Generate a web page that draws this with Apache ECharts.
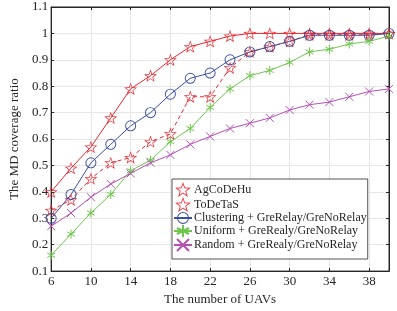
<!DOCTYPE html>
<html>
<head>
<meta charset="utf-8">
<script src="https://cdn.jsdelivr.net/npm/echarts@6/dist/echarts.min.js"></script>
<style>
  html, body { margin: 0; padding: 0; background: #fff; }
  #chart { width: 397px; height: 311px; }
</style>
</head>
<body>
<div id="chart"></div>
<script>
// ── data ──
const uavCounts = [6, 8, 10, 12, 14, 16, 18, 20, 22, 24, 26, 28, 30, 32, 34, 36, 38, 40]
const agCoDeHu = [0.40, 0.49, 0.57, 0.68, 0.79, 0.84, 0.90, 0.95, 0.97, 0.99, 1.0, 1.0, 1.0, 1.0, 1.0, 1.0, 1.0, 1.0]
const toDeTaS = [0.33, 0.37, 0.45, 0.51, 0.53, 0.59, 0.62, 0.76, 0.76, 0.87, 0.93, 0.95, 0.97, 0.995, 0.995, 0.995, 0.995, 1.0]
const clustering = [0.30, 0.39, 0.51, 0.58, 0.65, 0.70, 0.77, 0.83, 0.85, 0.90, 0.93, 0.95, 0.97, 0.993, 0.993, 0.993, 0.993, 1.0]
const uniform = [0.16, 0.24, 0.32, 0.39, 0.48, 0.52, 0.59, 0.64, 0.72, 0.79, 0.84, 0.86, 0.89, 0.93, 0.94, 0.96, 0.97, 0.99]
const random = [0.27, 0.32, 0.38, 0.43, 0.47, 0.51, 0.54, 0.58, 0.61, 0.64, 0.66, 0.68, 0.71, 0.73, 0.74, 0.76, 0.78, 0.79]
const seriesNames = [
  'AgCoDeHu',
  'ToDeTaS',
  'Clustering + GreRelay/GreNoRelay',
  'Uniform + GreRealy/GreNoRelay',
  'Random + GreRealy/GreNoRelay',
]

// ── marker shapes (hollow ones are drawn as rings so fill gives an outline) ──
const STAR = 'path://M0,-10L2.35,-3.24L9.51,-3.09L3.8,1.24L5.88,8.09L0,4L-5.88,8.09L-3.8,1.24L-9.51,-3.09L-2.35,-3.24Z' +
  'M0,-7.2L-1.6,-2.4L-6.6,-2.2L-2.7,0.9L-4.1,5.6L0,2.8L4.1,5.6L2.7,0.9L6.6,-2.2L1.6,-2.4Z'
const RING = 'path://M0,-10A10,10,0,1,1,0,10A10,10,0,1,1,0,-10Z' +
  'M0,-8.3A8.3,8.3,0,1,0,0,8.3A8.3,8.3,0,1,0,0,-8.3Z'
const ASTERISK = 'path://M0,-10L0,10M-8.66,-5L8.66,5M-8.66,5L8.66,-5'
const CROSS = 'path://M-10,-10L10,10M-10,10L10,-10'

const RED = '#e9262f'
const BLUE = '#3b4f9f'
const GREEN = '#6dc64b'
const MAGENTA = '#b550b5'
const INK = '#262626'
const FONT = '"Liberation Serif", "Times New Roman", serif'

function pairs(ys) { return uavCounts.map((x, i) => [x, ys[i]]) }

function mkSeries(name, ys, color, symbol, size, dashed, stroke) {
  return {
    name, type: 'line', data: pairs(ys),
    symbol, symbolSize: size, symbolKeepAspect: true,
    lineStyle: { color, width: 1, type: dashed ? [4, 3] : 'solid' },
    itemStyle: { color, borderColor: color, borderWidth: stroke ? 1 : 0 },
    emphasis: { disabled: true },
  }
}

// mirrored axes on top / right only carry the inward ticks
const tickOnly = {
  axisLine: { show: true, lineStyle: { color: INK } },
  axisTick: { inside: true, length: 3, lineStyle: { color: INK } },
  axisLabel: { show: false },
  splitLine: { show: false },
}

const chart = echarts.init(document.getElementById('chart'), null, { renderer: 'canvas' })

chart.setOption({
  animation: false,
  backgroundColor: '#fff',
  textStyle: { fontFamily: FONT },
  grid: { left: 39, right: 8, top: 7, bottom: 34, show: true, borderColor: INK, borderWidth: 1 },
  xAxis: [{
    type: 'value', min: 6, max: 40, interval: 4,
    name: 'The number of UAVs', nameLocation: 'middle', nameGap: 15,
    nameTextStyle: { fontFamily: FONT, fontSize: 13, color: INK },
    axisLine: { lineStyle: { color: INK } },
    axisTick: { inside: true, length: 3, lineStyle: { color: INK } },
    axisLabel: { fontFamily: FONT, fontSize: 13, color: INK, margin: 4, showMaxLabel: false },
    splitLine: { lineStyle: { color: '#e6e6e6' } },
  }, {
    type: 'value', min: 6, max: 40, interval: 4, position: 'top', ...tickOnly,
  }],
  yAxis: [{
    type: 'value', min: 0.1, max: 1.1, interval: 0.1,
    name: 'The MD coverage ratio', nameLocation: 'middle', nameGap: 26,
    nameTextStyle: { fontFamily: FONT, fontSize: 13, color: INK },
    axisLine: { lineStyle: { color: INK } },
    axisTick: { inside: true, length: 3, lineStyle: { color: INK } },
    axisLabel: { fontFamily: FONT, fontSize: 13, color: INK, margin: 3 },
    splitLine: { lineStyle: { color: '#e6e6e6' } },
  }, {
    type: 'value', min: 0.1, max: 1.1, interval: 0.1, position: 'right', ...tickOnly,
  }],
  legend: {
    orient: 'vertical', left: 172, top: 179,
    padding: [3, 1, 7, 1], itemGap: 0, itemWidth: 18, itemHeight: 15,
    backgroundColor: '#fff', borderColor: INK, borderWidth: 0.8, borderRadius: 0,
    textStyle: { fontFamily: FONT, fontSize: 12, color: INK, padding: [0, 0, 0, -3] },
    data: [
      { name: seriesNames[0], icon: STAR },
      { name: seriesNames[1], icon: STAR },
      seriesNames[2], seriesNames[3], seriesNames[4],
    ],
  },
  series: [
    mkSeries(seriesNames[0], agCoDeHu, RED, STAR, 13, false, false),
    mkSeries(seriesNames[1], toDeTaS, RED, STAR, 13, true, false),
    mkSeries(seriesNames[2], clustering, BLUE, RING, 11, false, false),
    mkSeries(seriesNames[3], uniform, GREEN, ASTERISK, 9, false, true),
    mkSeries(seriesNames[4], random, MAGENTA, CROSS, 8, false, true),
  ],
})
</script>
</body>
</html>
